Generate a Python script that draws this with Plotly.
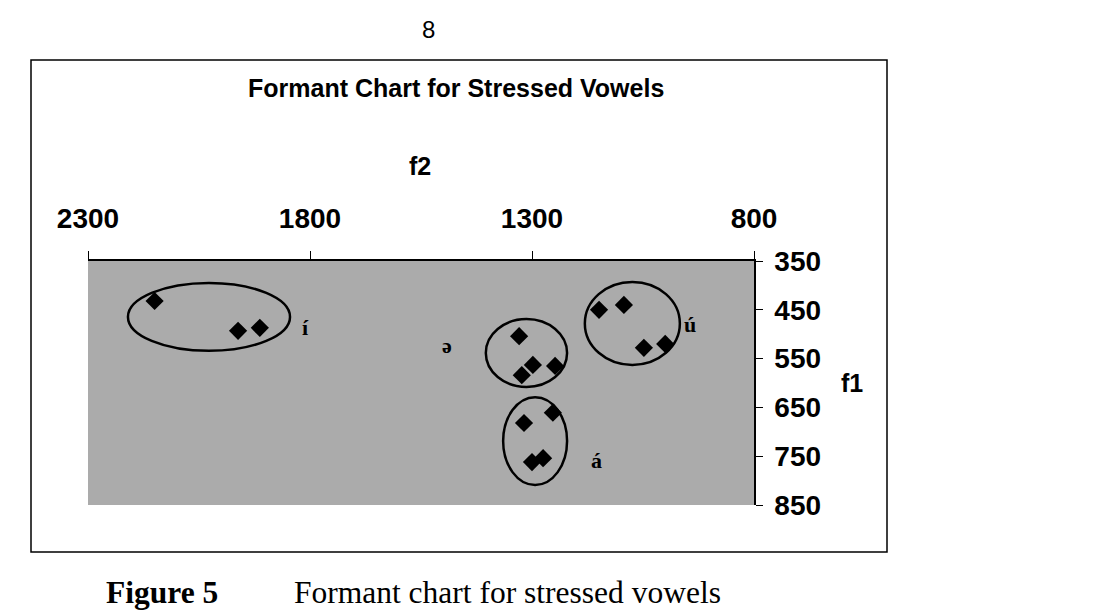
import plotly.graph_objs as go

# Formant values (Hz)
vowels = ["í", "ə", "ú", "á"]
f2_values = [
    [2150, 1962, 1913],
    [1329, 1298, 1323, 1248],
    [1149, 1093, 1048, 1000],
    [1318, 1253, 1300, 1275],
]
f1_values = [
    [432, 493, 487],
    [504, 563, 584, 565],
    [450, 440, 528, 520],
    [682, 661, 762, 754],
]

# Circles drawn round each vowel cluster: (f2 left, f2 right, f1 top, f1 bottom)
cluster_bounds = [
    (2210, 1845, 395, 534),
    (1404, 1221, 469, 608),
    (1181, 967, 393, 563),
    (1365, 1221, 629, 809),
]
# Where each vowel's label sits (f2, f1)
label_f2 = [1811, 1491, 944, 1154]
label_f1 = [487, 524, 481, 758]

x_ticks = [2300, 1800, 1300, 800]
y_ticks = [350, 450, 550, 650, 750, 850]

W, H = 1098, 611
OFF = 8  # page body margin


def px(x):
    return (x - OFF) / W


def py(y):
    return 1 - (y - OFF) / H


fig = go.Figure()

for name, xs, ys in zip(vowels, f2_values, f1_values):
    fig.add_trace(go.Scatter(x=xs, y=ys, mode="markers", name=name,
                             marker=dict(symbol="diamond", size=14, color="black")))

for (x0, x1, y0, y1) in cluster_bounds:
    fig.add_shape(type="circle", xref="x", yref="y", x0=x0, x1=x1, y0=y0, y1=y1,
                  line=dict(color="black", width=2.5))

for name, lx, ly in zip(vowels, label_f2, label_f1):
    fig.add_annotation(x=lx, y=ly, text="<b>%s</b>" % name, showarrow=False,
                       xanchor="center", yanchor="middle",
                       font=dict(family="Liberation Serif", size=22, color="black"))

# Outer chart border
fig.add_shape(type="rect", xref="paper", yref="paper",
              x0=px(31), x1=px(887), y0=py(552), y1=py(60),
              line=dict(color="black", width=1.5), layer="below")

sans = "Liberation Sans"
serif = "Liberation Serif"
texts = [
    ("8", 428, 30, "center", sans, 24),
    ("<b>Formant Chart for Stressed Vowels</b>", 456, 88, "center", sans, 25),
    ("<b>f2</b>", 420, 166, "center", sans, 25),
    ("<b>f1</b>", 852, 383, "center", sans, 25),
    ("<b>Figure 5</b>", 104, 592, "left", serif, 31.5),
    ("Formant chart for stressed vowels", 292, 592, "left", serif, 31.5),
]
for text, x, y, anchor, family, size in texts:
    fig.add_annotation(xref="paper", yref="paper", x=px(x), y=py(y), text=text,
                       showarrow=False, xanchor=anchor, yanchor="middle",
                       font=dict(family=family, size=size, color="black"))

fig.update_layout(
    width=W, height=H,
    margin=dict(l=0, r=0, t=0, b=0, autoexpand=False),
    paper_bgcolor="white",
    plot_bgcolor="#ababab",
    showlegend=False,
    xaxis=dict(domain=[px(88), px(754)], range=[2300, 800], side="top",
               tickvals=x_ticks, ticktext=["<b>%d</b>" % v for v in x_ticks],
               ticks="outside", ticklen=8, tickcolor="black", automargin=False,
               showline=True, linecolor="black", linewidth=1.5, showgrid=False, zeroline=False,
               ticklabelstandoff=12,
               tickfont=dict(family=sans, size=28, color="black")),
    yaxis=dict(domain=[py(505), py(261)], range=[850, 350], side="right",
               tickvals=y_ticks, ticktext=["<b>%d</b>" % v for v in y_ticks],
               ticks="outside", ticklen=7, tickcolor="black", automargin=False,
               showline=True, linecolor="black", linewidth=1.5, showgrid=False, zeroline=False,
               ticklabelstandoff=6,
               tickfont=dict(family=sans, size=28, color="black")),
)

fig.write_html("out.html")
